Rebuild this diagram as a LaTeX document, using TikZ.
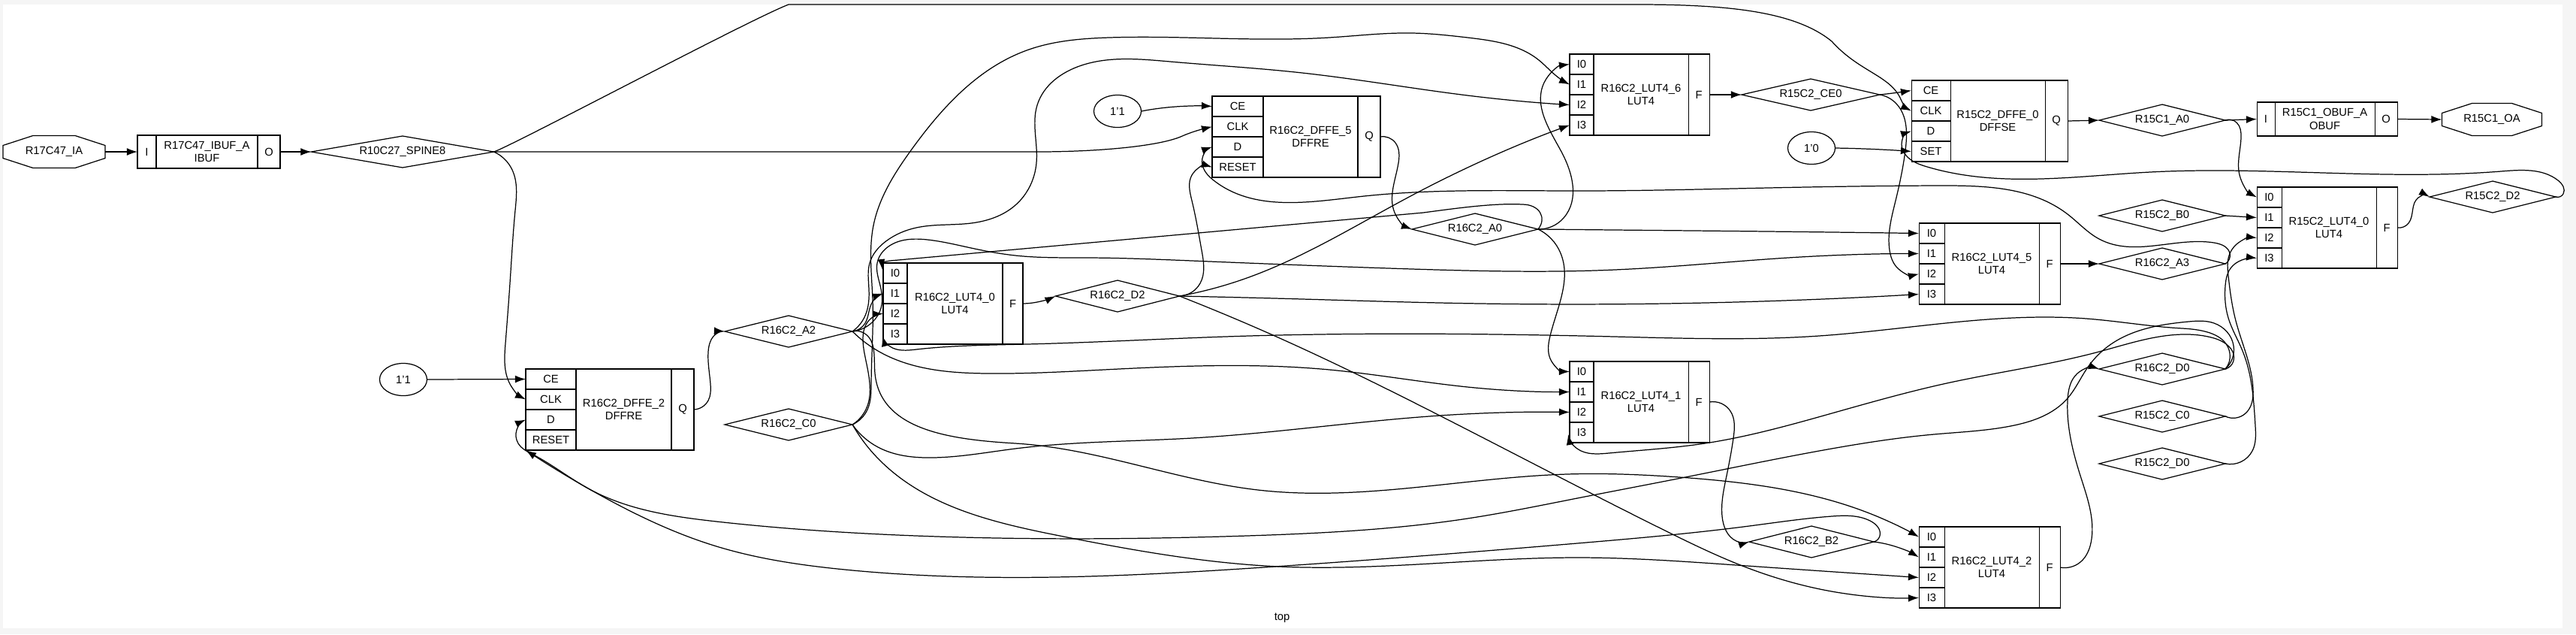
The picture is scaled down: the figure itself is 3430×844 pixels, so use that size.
\documentclass[tikz,border=0pt]{standalone}
\usepackage{fontspec}
\setmainfont{Liberation Sans}
\usetikzlibrary{arrows.meta,shapes.geometric,calc,hobby}
\tikzset{
  x=0.01cm,y=-0.01cm,
  lbl/.style={font=\fontsize{4.2}{4.9}\selectfont,align=center,inner sep=0pt,outer sep=0pt},
  cellbox/.style={lbl,draw=black,line width=.3pt,rectangle},
  dia/.style={lbl,draw=black,line width=.35pt,diamond,aspect=4,minimum width=1.68cm,minimum height=.42cm},
  widedia/.style={dia,minimum width=2.43cm},
  oval/.style={lbl,draw=black,line width=.35pt,ellipse,minimum width=.63cm,minimum height=.43cm},
  octa/.style={lbl,rectangle,minimum height=.43cm},
  edge/.style={draw=black,line width=.35pt,-{Latex[length=4pt,width=2.8pt]}},
  wire/.style={edge,use Hobby shortcut}
}
\newcommand\octagon[1]{%
  \draw[black,line width=.35pt] ($(#1.north west)+(40,0)$) -- ($(#1.north east)+(-40,0)$) -- ($(#1.north east)+(0,13)$) -- ($(#1.south east)+(0,-13)$) -- ($(#1.south east)+(-40,0)$) -- ($(#1.south west)+(40,0)$) -- ($(#1.south west)+(0,-13)$) -- ($(#1.north west)+(0,13)$) -- cycle;}
% name, x1, y1, x2, y2, text
\newcommand\gcell[6]{%
  \pgfmathsetmacro\gcx{(#2+#4)/2}\pgfmathsetmacro\gcy{(#3+#5)/2}%
  \pgfmathsetmacro\gcw{(#4-#2)*0.01}\pgfmathsetmacro\gch{(#5-#3)*0.01}%
  \node[cellbox,minimum width=\gcw cm,minimum height=\gch cm] (#1) at (\gcx,\gcy) {#6};}
% name, x0,x1,x2,x3, ytop, main, portA,portB,portC,portD, output
\newcommand\fourbox[7]{%
  \def\fbn{#1}\def\fba{#2}\def\fbb{#3}\def\fbc{#4}\def\fbd{#5}\def\fby{#6}\def\fbmain{#7}\fourboxb}
\newcommand\fourboxb[5]{%
  \pgfmathsetmacro\ra{\fby+27}\pgfmathsetmacro\rb{\fby+54}\pgfmathsetmacro\rc{\fby+81}\pgfmathsetmacro\rd{\fby+108}%
  \edef\rra{\ra}\edef\rrb{\rb}\edef\rrc{\rc}\edef\rrd{\rd}%
  \gcell{\fbn-a}{\fba}{\fby}{\fbb}{\rra}{#1}%
  \gcell{\fbn-b}{\fba}{\rra}{\fbb}{\rrb}{#2}%
  \gcell{\fbn-c}{\fba}{\rrb}{\fbb}{\rrc}{#3}%
  \gcell{\fbn-d}{\fba}{\rrc}{\fbb}{\rrd}{#4}%
  \gcell{\fbn-m}{\fbb}{\fby}{\fbc}{\rrd}{\fbmain}%
  \gcell{\fbn-o}{\fbc}{\fby}{\fbd}{\rrd}{#5}}
\begin{document}
\begin{tikzpicture}
\useasboundingbox (0,0) rectangle (3430,844);
\fill[black!4] (0,0) rectangle (3430,844);
\fill[white] (4,6) rectangle (3412,836);

\node[lbl] (title) at (1707,822) {top};

\node[octa,minimum width=1.36cm] (ia) at (72,202) {R17C47\_IA};
\octagon{ia}
\node[octa,minimum width=1.33cm] (oa) at (3318,159) {R15C1\_OA};
\octagon{oa}

\gcell{ib-i}{183}{180}{208}{224}{I}
\gcell{ib-m}{208}{180}{343}{224}{R17C47\_IBUF\_A\\IBUF}
\gcell{ib-o}{343}{180}{373}{224}{O}
\gcell{ob-i}{3005}{136}{3029}{181}{I}
\gcell{ob-m}{3029}{136}{3162}{181}{R15C1\_OBUF\_A\\OBUF}
\gcell{ob-o}{3162}{136}{3192}{181}{O}

\fourbox{ff2}{700}{767}{894}{924}{491}{R16C2\_DFFE\_2\\DFFRE}{CE}{CLK}{D}{RESET}{Q}
\fourbox{ff5}{1614}{1682}{1808}{1838}{128}{R16C2\_DFFE\_5\\DFFRE}{CE}{CLK}{D}{RESET}{Q}
\fourbox{ff0}{2545}{2597}{2723}{2753}{107}{R15C2\_DFFE\_0\\DFFSE}{CE}{CLK}{D}{SET}{Q}
\fourbox{lz}{1176}{1208}{1335}{1362}{350}{R16C2\_LUT4\_0\\LUT4}{I0}{I1}{I2}{I3}{F}
\fourbox{ls}{2090}{2122}{2248}{2276}{72}{R16C2\_LUT4\_6\\LUT4}{I0}{I1}{I2}{I3}{F}
\fourbox{lo}{2090}{2122}{2248}{2276}{481}{R16C2\_LUT4\_1\\LUT4}{I0}{I1}{I2}{I3}{F}
\fourbox{lf}{2555}{2589}{2715}{2743}{297}{R16C2\_LUT4\_5\\LUT4}{I0}{I1}{I2}{I3}{F}
\fourbox{lt}{2555}{2589}{2715}{2743}{701}{R16C2\_LUT4\_2\\LUT4}{I0}{I1}{I2}{I3}{F}
\fourbox{lr}{3005}{3038}{3164}{3192}{249}{R15C2\_LUT4\_0\\LUT4}{I0}{I1}{I2}{I3}{F}

\node[widedia] (spine) at (536,202) {R10C27\_SPINE8};
\node[oval] (one) at (537,505) {1'1};
\node[oval] (onef) at (1488,148) {1'1};
\node[oval] (zero) at (2412,197) {1'0};
\node[dia,minimum width=1.7cm] (atwo) at (1050,441) {R16C2\_A2};
\node[dia,minimum width=1.7cm] (czero) at (1050,565) {R16C2\_C0};
\node[dia,minimum width=1.65cm] (dtwo) at (1488,394) {R16C2\_D2};
\node[dia] (azero) at (1964,305) {R16C2\_A0};
\node[dia,minimum width=1.84cm] (cezero) at (2411,126) {R15C2\_CE0};
\node[dia] (rao) at (2879,160) {R15C1\_A0};
\node[dia] (rd) at (3319,262) {R15C2\_D2};
\node[dia] (rb) at (2879,287) {R15C2\_B0};
\node[dia] (athree) at (2879,351) {R16C2\_A3};
\node[dia] (dzero) at (2879,491) {R16C2\_D0};
\node[dia] (rc) at (2879,554) {R15C2\_C0};
\node[dia] (rdz) at (2879,617) {R15C2\_D0};
\node[dia,minimum width=1.66cm] (btwo) at (2412,721) {R16C2\_B2};

% straight nets
\draw[edge] (ia.east) -- (ib-i.west);
\draw[edge] (ib-o.east) -- (spine.west);
\draw[edge] (one.east) -- (ff2-a.west);
\draw[edge] (ls-o.east) -- (cezero.west);
\draw[edge] (ff0-o.east) -- (rao.west);
\draw[edge] (rao.east) -- (ob-i.west);
\draw[edge] (ob-o.east) -- (oa.west);
\draw[edge] (rb.east) -- (lr-b.west);
\draw[edge] (lf-o.east) -- (athree.west);
\draw[wire] (onef.east) .. (1565,142) .. (ff5-a.west);

% spine
\draw[wire] (spine.east) .. (682,226) .. (686,280) .. (679,377) .. (673,457) .. (679,511) .. (ff2-b.west);
\draw[edge] (spine.east) -- (1381,202) .. controls (1460,202) and (1540,195) .. (1572,182) .. controls (1585,176) and (1600,172) .. (ff5-b.west);
\draw[edge] (spine.east) .. controls (680,195) and (1000,25) .. (1050,6) -- (2180,6) .. controls (2300,6) and (2390,15) .. (2439,55) .. controls (2475,95) and (2515,100) .. (2530,130) .. controls (2534,140) and (2540,145) .. (ff0-b.west);

\draw[wire] (ff2-o.east) .. (943,533) .. (946,511) .. (943,468) .. (954,444) .. (atwo.west);

% A2
\draw[wire] (atwo.east) .. (1152,430) .. (1160,405) .. (lz-b.west);
\draw[wire] (atwo.east) .. (1152,420) .. (1157,385) .. (1158,350) .. (1181,320) .. (1220,303) .. (1293,297) .. (1352,273) .. (1380,217) .. (1381,140) .. (1440,87) .. (1558,82) .. (1734,97) .. (1954,127) .. (ls-c.west);
\draw[wire] (atwo.east) .. (1165,425) .. (1173,410) .. (1172,380) .. (1168,350) .. (1183,328) .. (1235,319) .. (1293,330) .. (1352,340) .. (1450,343) .. (1587,347) .. (1880,358) .. (2150,359) .. (2397,342) .. (lf-b.west);
\draw[wire] (atwo.east) .. (1169,467) .. (1315,497) .. (1470,492) .. (1770,492) .. (1954,515) .. (lo-b.west);
\draw[wire] (atwo.east) .. (1150,443) .. (1165,497) .. (1352,590) .. (1675,652) .. (2086,631) .. (2236,635) .. (2499,687) .. (lt-a.west);

% C0
\draw[wire] (czero.east) .. (1155,540) .. (1158,510) .. (1153,480) .. (1149,450) .. (1153,432) .. (1162,422) .. (lz-c.west);
\draw[wire] (czero.east) .. (1155,545) .. (1160,510) .. (1162,400) .. (1163,300) .. (1213,200) .. (1367,67) .. (1477,50) .. (1770,50) .. (1880,44) .. (1954,50) .. (2049,80) .. (2071,100) .. (ls-b.west);
\draw[wire] (czero.east) .. (1169,595) .. (1242,609) .. (1352,597) .. (1587,583) .. (1917,553) .. (lo-c.west);
\draw[wire] (czero.east) .. (1169,610) .. (1411,713) .. (1704,754) .. (2100,742) .. (2312,752) .. (lt-c.west);

% D2
\draw[wire] (lz-o.east) .. (1381,402) .. (dtwo.west);
\draw[wire] (dtwo.east) .. (1598,377) .. (1600,333) .. (1587,267) .. (1587,233) .. (ff5-d.west);
\draw[wire] (dtwo.east) .. (1660,370) .. (1880,260) .. (ls-d.west);
\draw[wire] (dtwo.east) .. (1734,398) .. (1917,403) .. (2270,403) .. (lf-d.west);
\draw[wire] (dtwo.east) .. (1704,450) .. (1917,553) .. (2219,707) .. (2320,753) .. (2439,787) .. (lt-d.west);

% DFFE_5 Q and A0
\draw[wire] (ff5-o.east) .. (1858,190) .. (1862,217) .. (1857,283) .. (azero.west);
\draw[wire] (azero.east) .. (2082,290) .. (2078,200) .. (2056,110) .. (ls-a.west);
\draw[wire] (azero.east) .. (2150,306) .. (2354,308) .. (lf-a.west);
\draw[wire] (azero.east) .. (2078,337) .. (2064,447) .. (2064,477) .. (lo-a.west);
\draw[edge] (azero.east) .. controls (2060,290) and (2050,272) .. (2027,272) .. controls (1990,270) and (1940,277) .. (1895,283) -- (1185,347) .. controls (1178,348) and (1174,350) .. ($(lz-a.north west)+(-1,9)$);

% A3 to DFFE_5 D
\draw[wire] (athree.east) .. (2969,337) .. (2948,323) .. (2795,318) .. (2753,285) .. (2583,247) .. (2354,250) .. (2100,254) .. (1807,262) .. (1616,240) .. (1602,223) .. (1602,207) .. (ff5-c.west);

% D0 net
\draw[wire] (dzero.east) .. (2974,480) .. (2948,450) .. (2906,445) .. (2795,468) .. (2592,510) .. (2439,550) .. (2270,590) .. (2142,603) .. (2100,597) .. ($(lo-d.south west)+(-2,-11)$);
\draw[wire] (dzero.east) .. (2969,470) .. (2906,437) .. (2778,424) .. (2422,447) .. (2150,448) .. (1631,448) .. (1367,458) .. (1220,465) .. (1185,461) .. ($(lz-d.south west)+(-1,-11)$);
\draw[wire] (dzero.east) .. (2974,460) .. (2948,430) .. (2914,428) .. (2804,463) .. (2779,490) .. (2753,530) .. (2677,567) .. (2575,578) .. (2439,597) .. (2244,635) .. (2100,663) .. (1954,690) .. (1660,713) .. (1220,713) .. (954,694) .. (785,651) .. (710,605) .. (690,590) .. (688,572) .. (ff2-c.west);

% B2
\draw[wire] (btwo.east) .. (2516,725) .. (lt-b.west);
\draw[wire] (btwo.east) .. (2503,713) .. (2490,693) .. (2439,687) .. (2329,700) .. (2100,723) .. (1697,754) .. (1125,758) .. (954,727) .. (785,651) .. (720,612) .. (ff2-d.south west);

% LUT outputs
\draw[wire] (lo-o.east) .. (2304,547) .. (2308,583) .. (2299,633) .. (2293,687) .. (2312,720) .. (btwo.west);
\draw[wire] (lt-o.east) .. (2770,748) .. (2785,717) .. (2770,633) .. (2753,533) .. (2766,497) .. (dzero.west);
\draw[wire] (lr-o.east) .. (3207,297) .. (3220,263) .. (rd.west);

% CE0
\draw[wire] (cezero.east) .. (2520,124) .. (ff0-a.west);
\draw[wire] (cezero.east) .. (2525,138) .. (2537,200) .. (2524,267) .. (2516,333) .. (2525,355) .. (lf-c.west);

\draw[wire] (zero.east) .. (2482,198) .. (ff0-d.west);

% R15C2_D2 to DFFSE D
\draw[wire] (rd.east) .. (3413,258) .. (3406,240) .. (3330,228) .. (2863,229) .. (2566,222) .. (2541,210) .. (2532,192) .. (ff0-c.west);

% right group
\draw[wire] (rao.east) .. (2978,163) .. (2984,183) .. (2982,233) .. (lr-a.west);
\draw[wire] (rc.east) .. (2990,550) .. (3000,517) .. (2977,427) .. (2967,367) .. (2968,340) .. (2978,325) .. (lr-c.west);
\draw[wire] (rdz.east) .. (2999,600) .. (3003,567) .. (2986,467) .. (2967,423) .. (2963,380) .. (2970,357) .. (2985,346) .. (lr-d.west);
\end{tikzpicture}
\end{document}
